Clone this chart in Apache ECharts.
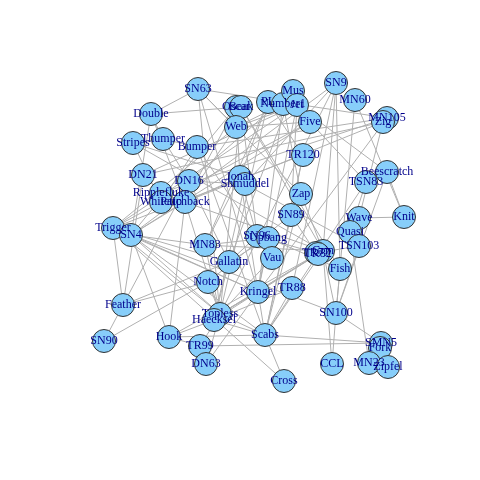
<!DOCTYPE html><html><head><meta charset="utf-8"><script src="https://cdn.jsdelivr.net/npm/echarts@6/dist/echarts.min.js"></script></head><body style="margin:0"><div id="c" style="width:480px;height:480px"></div><script>
const names=["Oscar","Beak","Web","PL","Number1","Mus","Jet","Five","SN9","MN60","MN105","Zig","TR120","SN63","Double","Stripes","Thumper","Bumper","DN21","DN16","Ripplefluke","Whitetip","Patchback","Jonah","Shmuddel","Trigger","SN4","MN83","Gallatin","SN96","Upbang","Vau","Zap","SN89","Beescratch","TSN83","Wave","Knit","Quasi","TSN103","Grin","TR77","TR82","Fish","TR88","Kringel","Notch","Topless","Haecksel","Feather","SN90","Hook","TR99","DN63","Scabs","SN100","SMN5","Fork","MN23","Zipfel","CCL","Cross"];
const xs=[236,241,236,268,283,293,297,310,336,355,387,383,303,198,151,133,163,197,143,189,161,161,185,240,245,113,131,205,229,257,268,272,301,291,387,366,359,404,350,359,323,316,318,340,292,258,208,220,214,123,104,169,200,206,265,336,381,380,369,388,332,284];
const ys=[107,107,127,102,104,91,105,122,83,100,118,122,155,89,114,143,139,147,175,181,193,202,202,177,184,228,235,245,262,236,238,258,194,215,172,182,218,217,232,246,251,253,254,269,288,292,282,314,320,305,341,337,346,364,335,313,343,348,363,367,364,381];
const edges=[["Oscar","Web"],["Oscar","Jonah"],["Oscar","SN4"],["Oscar","Patchback"],["Beak","Fish"],["Beak","Grin"],["Beak","Topless"],["Beak","SN96"],["Beak","Double"],["Web","Jet"],["Web","Number1"],["Web","Patchback"],["Web","Trigger"],["Web","Five"],["PL","Jonah"],["PL","TR120"],["PL","MN83"],["PL","Topless"],["Number1","Mus"],["Number1","Zap"],["Number1","Kringel"],["Mus","Jet"],["Mus","Gallatin"],["Mus","DN16"],["Jet","SN89"],["Jet","Trigger"],["Jet","Beescratch"],["Jet","Kringel"],["Five","Trigger"],["Five","SN4"],["Five","TSN83"],["SN9","Grin"],["SN9","SN4"],["SN9","Shmuddel"],["SN9","Topless"],["SN9","Fish"],["SN9","TR88"],["MN60","Knit"],["MN60","SN100"],["MN105","Bumper"],["MN105","Zig"],["MN105","SN63"],["MN105","Ripplefluke"],["MN105","Kringel"],["Zig","DN21"],["Zig","Patchback"],["TR120","SN89"],["TR120","Trigger"],["TR120","Scabs"],["SN63","Double"],["SN63","Kringel"],["SN63","Topless"],["SN63","Web"],["SN63","Zap"],["Double","Thumper"],["Double","Patchback"],["Double","SN4"],["Stripes","Thumper"],["Stripes","Whitetip"],["Stripes","Jonah"],["Stripes","Grin"],["Thumper","Bumper"],["Thumper","DN16"],["Bumper","Whitetip"],["Bumper","Scabs"],["Bumper","SN96"],["DN21","Feather"],["DN21","Jet"],["DN21","Ripplefluke"],["DN16","Whitetip"],["DN16","Feather"],["DN16","Shmuddel"],["DN16","Gallatin"],["Ripplefluke","Patchback"],["Patchback","SN4"],["Patchback","Topless"],["Patchback","Grin"],["Patchback","Jonah"],["Patchback","Hook"],["Jonah","MN83"],["Jonah","Kringel"],["Jonah","SN96"],["Jonah","Shmuddel"],["Shmuddel","Haecksel"],["Shmuddel","TSN103"],["Trigger","SN4"],["Trigger","Gallatin"],["Trigger","Feather"],["Trigger","Kringel"],["Trigger","Topless"],["SN4","MN83"],["SN4","Kringel"],["SN4","Scabs"],["SN4","Topless"],["SN4","SN100"],["SN4","Hook"],["MN83","Upbang"],["MN83","Grin"],["MN83","Topless"],["Gallatin","Upbang"],["Gallatin","SN96"],["Gallatin","Haecksel"],["SN96","Vau"],["SN96","TR77"],["Upbang","Fish"],["Upbang","Kringel"],["Vau","Topless"],["Zap","Grin"],["Zap","Scabs"],["SN89","Scabs"],["SN89","Notch"],["Beescratch","TSN83"],["Beescratch","Knit"],["Beescratch","SN100"],["TSN83","Quasi"],["TSN83","TR82"],["Wave","Knit"],["Wave","TSN103"],["Wave","Zig"],["Quasi","TSN103"],["TSN103","SN100"],["TSN103","TR77"],["Grin","TR77"],["Grin","Scabs"],["Grin","Topless"],["Grin","Hook"],["Grin","Kringel"],["Grin","SN100"],["TR82","Scabs"],["TR82","Topless"],["Fish","SN100"],["TR88","Scabs"],["TR88","Haecksel"],["Kringel","Topless"],["Kringel","Scabs"],["Kringel","Haecksel"],["Notch","Topless"],["Notch","Feather"],["Topless","TR99"],["Topless","DN63"],["Topless","Scabs"],["Haecksel","Hook"],["Feather","SN90"],["Feather","Gallatin"],["Hook","TR99"],["Hook","Scabs"],["TR99","DN63"],["TR99","SMN5"],["DN63","Kringel"],["Scabs","SMN5"],["Scabs","Cross"],["Scabs","Haecksel"],["SN100","SMN5"],["SN100","CCL"],["SMN5","MN23"],["SMN5","Zipfel"],["Fork","Zipfel"],["MN23","Quasi"],["CCL","Grin"],["Cross","Trigger"],["SN90","Notch"],["TR77","SN89"]];
const chart=echarts.init(document.getElementById('c'));
chart.setOption({animation:false,series:[{type:'graph',layout:'none',left:0,top:0,right:0,bottom:0,
 data:names.map((n,i)=>({name:n,x:xs[i],y:ys[i]})),
 edges:edges.map(e=>({source:e[0],target:e[1]})),
 symbolSize:23,
 itemStyle:{color:'#87CEFA',borderColor:'#333',borderWidth:1},
 lineStyle:{color:'#b0b0b0',width:1,opacity:1},
 label:{show:true,position:'inside',color:'#00008B',fontFamily:'Liberation Serif',fontSize:12}
}]});
chart.setOption({series:[{left:104,top:83,width:300,height:298}]});
</script></body></html>
